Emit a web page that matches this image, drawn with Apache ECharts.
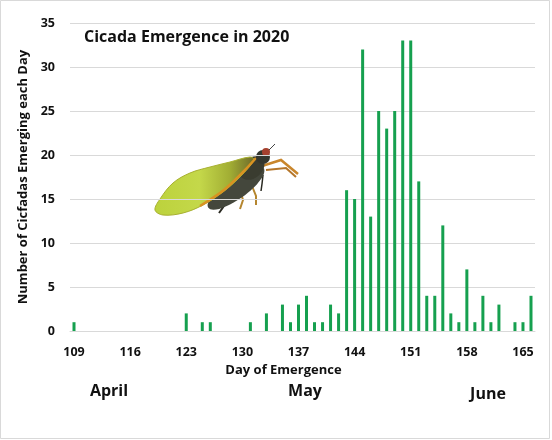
<!DOCTYPE html>
<html>
<head>
<meta charset="utf-8">
<script src="https://cdn.jsdelivr.net/npm/echarts@6/dist/echarts.min.js"></script>
<style>
html,body{margin:0;padding:0;background:#fff;}
#c{width:552px;height:440px;}
</style>
</head>
<body>
<div id="c"></div>
<script>
// Day of year 109..166
var days = [];
for (var d = 109; d <= 166; d++) days.push(String(d));
var counts = [
  1,0,0,0,0,0,0,   // 109-115
  0,0,0,0,0,0,0,   // 116-122
  2,0,1,1,0,0,0,   // 123-129
  0,1,0,2,0,3,1,   // 130-136
  3,4,1,1,3,2,16,  // 137-143
  15,32,13,25,23,25,33, // 144-150
  33,17,4,4,12,2,1, // 151-157
  7,1,4,1,3,0,1,   // 158-164
  1,4              // 165-166
];
var monthLabels = ['April', 'May', 'June'];
var titleText = 'Cicada Emergence in 2020';
var xName = 'Day of Emergence';
var yName = 'Number of Cicfadas Emerging each Day';

var F = "'Open Sans', 'Noto Sans', sans-serif";
var chart = echarts.init(document.getElementById('c'));
chart.setOption({
  backgroundColor: '#fff',
  animation: false,
  title: {
    text: titleText, left: 79, top: 24,
    textStyle: {fontFamily: F, fontSize: 16, fontWeight: 'bold', color: '#111'}
  },
  grid: {left: 70, right: 17, top: 23, bottom: 109},
  xAxis: {
    type: 'category', data: days, boundaryGap: true,
    axisLine: {lineStyle: {color: '#d9d9d9'}},
    axisTick: {show: false},
    axisLabel: {interval: 6, margin: 15, fontFamily: F, fontSize: 12.5, fontWeight: 'bold', color: '#111'},
    name: xName, nameLocation: 'middle', nameGap: 33,
    nameTextStyle: {fontFamily: F, fontSize: 13, fontWeight: 'bold', color: '#111', padding: [0, 38, 0, 0]}
  },
  yAxis: {
    type: 'value', min: 0, max: 35, interval: 5,
    axisLine: {show: false}, axisTick: {show: false},
    splitLine: {lineStyle: {color: '#d9d9d9'}},
    axisLabel: {margin: 15, fontFamily: F, fontSize: 12.5, fontWeight: 'bold', color: '#111'},
    name: yName, nameLocation: 'middle', nameGap: 35,
    nameTextStyle: {fontFamily: F, fontSize: 13, fontWeight: 'bold', color: '#111'}
  },
  series: [{
    type: 'bar', data: counts, barWidth: 3,
    itemStyle: {color: '#16a04f'}
  }],
  graphic: [
    {type: 'rect', shape: {x: 0.5, y: 0.5, width: 549, height: 438}, style: {fill: 'none', stroke: '#d9d9d9', lineWidth: 1}, silent: true},
    {type: 'text', x: 109, y: 391, style: {text: monthLabels[0], fontFamily: F, fontSize: 16, fontWeight: 'bold', fill: '#111', textAlign: 'center', textVerticalAlign: 'middle'}},
    {type: 'text', x: 305, y: 391, style: {text: monthLabels[1], fontFamily: F, fontSize: 16, fontWeight: 'bold', fill: '#111', textAlign: 'center', textVerticalAlign: 'middle'}},
    {type: 'text', x: 488, y: 394, style: {text: monthLabels[2], fontFamily: F, fontSize: 16, fontWeight: 'bold', fill: '#111', textAlign: 'center', textVerticalAlign: 'middle'}},
    // cicada illustration
    {type: 'group', z: 100, children: [
      {type: 'polyline', shape: {points: [[262,166],[281,160],[298,174]]}, style: {stroke: '#c9862c', lineWidth: 2.5, fill: 'none'}},
      {type: 'polyline', shape: {points: [[266,170],[286,168],[296,177]]}, style: {stroke: '#b5762a', lineWidth: 2, fill: 'none'}},
      {type: 'polyline', shape: {points: [[240,190],[243,200],[240,209]]}, style: {stroke: '#b5862f', lineWidth: 2, fill: 'none'}},
      {type: 'polyline', shape: {points: [[252,186],[256,196],[256,205]]}, style: {stroke: '#b5862f', lineWidth: 2, fill: 'none'}},
      {type: 'polyline', shape: {points: [[228,200],[224,206],[219,213]]}, style: {stroke: '#2a2a22', lineWidth: 2, fill: 'none'}},
      {type: 'polyline', shape: {points: [[263,175],[262,184],[261,191]]}, style: {stroke: '#2a2a22', lineWidth: 1.5, fill: 'none'}},
      {type: 'ellipse', x: 236, y: 188, rotation: 0.62, shape: {cx: 0, cy: 0, rx: 34, ry: 11}, style: {fill: '#44473c'}},
      {type: 'ellipse', x: 252, y: 168, rotation: 0.7, shape: {cx: 0, cy: 0, rx: 14, ry: 10}, style: {fill: '#3a3c30'}},
      {type: 'polygon', shape: {smooth: 0.35, points: [[155,210],[160,199],[173,183],[190,173],[210,167],[230,162],[250,157],[254,160],[240,177],[223,192],[203,205],[183,213],[163,215]]},
        style: {fill: new echarts.graphic.LinearGradient(0, 0, 1, 0, [{offset: 0, color: '#bcd23c'}, {offset: 0.45, color: '#c4d84a'}, {offset: 0.75, color: '#a2ae34'}, {offset: 1, color: '#6e6a2a'}]), stroke: '#a8b030', lineWidth: 1}},
      {type: 'polyline', shape: {smooth: 0.3, points: [[200,206],[224,190],[244,171],[256,158]]}, style: {stroke: '#d99222', lineWidth: 2.5, fill: 'none'}},
      {type: 'circle', shape: {cx: 263, cy: 157, r: 7}, style: {fill: '#34362e'}},
      {type: 'circle', shape: {cx: 266, cy: 152, r: 4}, style: {fill: '#a5402e'}},
      {type: 'line', shape: {x1: 269, y1: 150, x2: 275, y2: 144}, style: {stroke: '#444', lineWidth: 1}}
    ]}
  ]
});
</script>
</body>
</html>
